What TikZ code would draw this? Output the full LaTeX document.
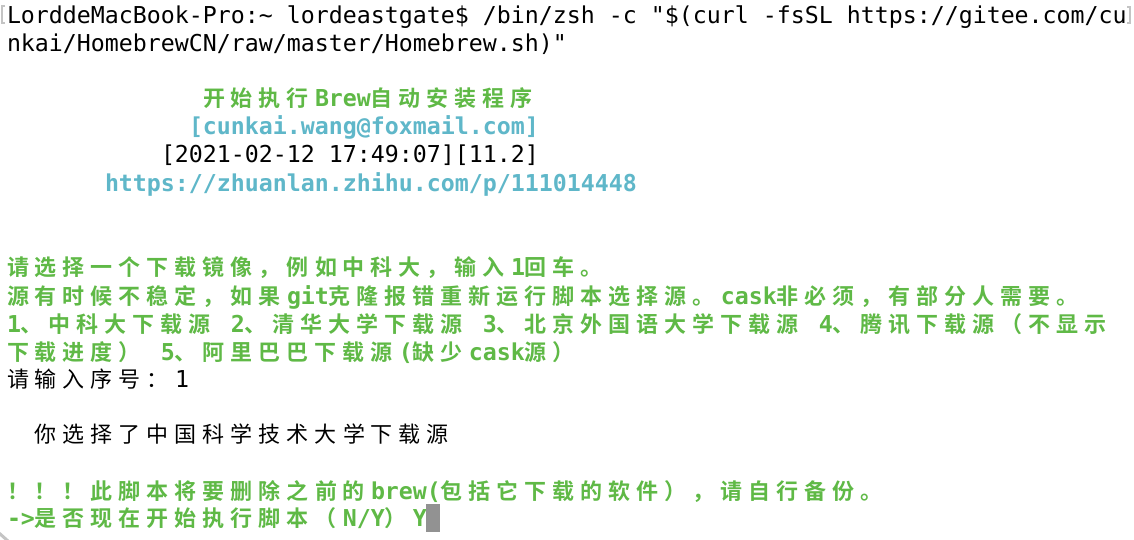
\documentclass[tikz,border=0pt]{standalone}
\usepackage{fontspec}
\setmonofont{DejaVu Sans Mono}
\newfontfamily\zhreg{Noto Sans CJK SC}
\newfontfamily\zhbold[BoldFont={Noto Sans CJK SC Bold}]{Noto Sans CJK SC}
\definecolor{termgreen}{HTML}{5FB946}
\definecolor{termblue}{HTML}{5FB7C9}
\definecolor{cursorgray}{HTML}{929292}
\definecolor{edgegray}{HTML}{C4C4C4}
\def\zhloop#1{\ifx#1\relax\else\hbox to 28pt{#1\hss}\expandafter\zhloop\fi}
\newcommand{\zhr}[1]{{\fontsize{22}{22}\zhreg\zhloop#1\relax}}
\newcommand{\zhb}[1]{{\fontsize{22}{22}\zhbold\bfseries\zhloop#1\relax}}
\newcommand{\col}[1]{\hspace*{#1\dimexpr14pt\relax}}
\tikzset{
  x=1pt,y=-1pt,
  line/.style={anchor=base west,inner sep=0pt,outer sep=0pt,font=\ttfamily\fontsize{23.25}{23.25}\selectfont,text=black},
  gline/.style={line,font=\ttfamily\bfseries\fontsize{23.25}{23.25}\selectfont,text=termgreen},
  bline/.style={line,font=\ttfamily\bfseries\fontsize{23.25}{23.25}\selectfont,text=termblue},
  edge/.style={draw=edgegray,line width=1.6pt},
}
\begin{document}
\begin{tikzpicture}
\useasboundingbox (0,0) rectangle (1134,540);
\fill[white] (0,0) rectangle (1134,540);
\draw[edge] (5,6) -- (2,6) -- (2,23) -- (5,23);
\draw[edge] (1127,7) -- (1130,7) -- (1130,23) -- (1127,23);
\draw[edgegray,line width=3pt] (-1,533) -- (8,541);
\node[line] (l1) at (7,24) {LorddeMacBook-Pro:\string~ lordeastgate\$ /bin/zsh -c "\$(curl -fsSL https://gitee.com/cu};
\node[line] (l2) at (7,52) {nkai/HomebrewCN/raw/master/Homebrew.sh)"};
\node[gline] (l3) at (7,107) {\col{14}\zhb{开始执行}Brew\zhb{自动安装程序}};
\node[bline] (l4) at (7,135) {\col{13}[cunkai.wang@foxmail.com]};
\node[line] (l5) at (7,163) {\col{11}[2021-02-12 17:49:07][11.2]};
\node[bline] (l6) at (7,191) {\col{7}https://zhuanlan.zhihu.com/p/111014448};
\node[gline] (l7) at (7,275) {\zhb{请选择一个下载镜像，例如中科大，输入}1\zhb{回车。}};
\node[gline] (l8) at (7,304) {\zhb{源有时候不稳定，如果}git\zhb{克隆报错重新运行脚本选择源。}cask\zhb{非必须，有部分人需要。}};
\node[gline] (l9) at (7,332) {1\zhb{、中科大下载源} 2\zhb{、清华大学下载源} 3\zhb{、北京外国语大学下载源} 4\zhb{、腾讯下载源（不显示}};
\node[gline] (l10) at (7,360) {\zhb{下载进度）} 5\zhb{、阿里巴巴下载源}(\zhb{缺少}cask\zhb{源）}};
\node[line] (l11) at (7,387) {\zhr{请输入序号：}1};
\node[line] (l12) at (7,442) {\col{2}\zhr{你选择了中国科学技术大学下载源}};
\node[gline] (l13) at (7,499) {\zhb{！！！此脚本将要删除之前的}brew(\zhb{包括它下载的软件），请自行备份。}};
\node[gline] (l14) at (7,526) {->\zhb{是否现在开始执行脚本（}N/Y\zhb{）}Y};
\fill[cursorgray] (426,504) rectangle (440,532);
\end{tikzpicture}
\end{document}
